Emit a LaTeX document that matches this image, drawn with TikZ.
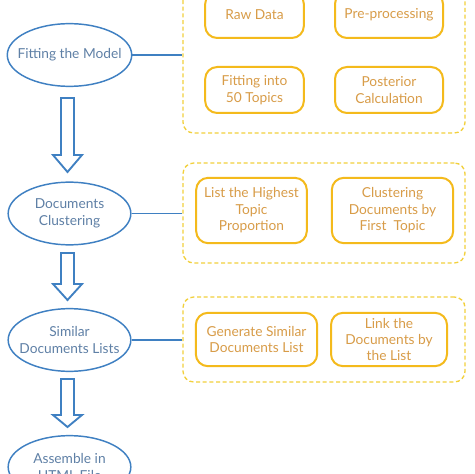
\documentclass[tikz,border=0pt]{standalone}
\usepackage{fontspec}
\setmainfont{Lato}
\usetikzlibrary{shapes.geometric}
\definecolor{eblue}{HTML}{3F80C2}
\definecolor{etext}{HTML}{5F80A6}
\definecolor{ogold}{HTML}{F4BA1C}
\definecolor{otext}{HTML}{D89C48}
\definecolor{dyel}{HTML}{F2D03C}
\tikzset{
  stage/.style={ellipse, draw=eblue, line width=1.1pt, fill=white, text=etext,
    minimum width=92pt, minimum height=47pt, inner sep=-6pt, align=center,
    font=\fontsize{10.3}{12.3}\selectfont},
  task/.style={rectangle, rounded corners=9pt, draw=ogold, line width=1.5pt, text=otext,
    align=center, inner sep=1pt, font=\fontsize{10.3}{12.3}\selectfont},
  group/.style={rectangle, rounded corners=8pt, draw=dyel, line width=1pt,
    dash pattern=on 3pt off 2pt, inner sep=0pt},
  link/.style={draw=eblue, line width=1.1pt},
  blockarrow/.style={draw=eblue, line width=1.4pt, fill=white, line join=miter}
}
\begin{document}
\begin{tikzpicture}[x=0.75pt,y=-0.75pt]
\clip (0,0) rectangle (474,474);
\fill[white] (0,0) rectangle (474,474);

% groups
\node[group, minimum width=211.5pt, minimum height=114.75pt] (g1) at (324,56.5) {};
\node[group, minimum width=211.5pt, minimum height=75pt] (g2) at (324,213) {};
\node[group, minimum width=211.5pt, minimum height=63.75pt] (g3) at (324,339.5) {};

% stages
\node[stage] (e1) at (69.5,55) {Fitting the Model};
\node[stage] (e2) at (69.5,213.5) {Documents\\Clustering};
\node[stage] (e3) at (69.5,340) {Similar\\Documents Lists};
\node[stage] (e4) at (69.5,467) {Assemble in\\HTML File};

% tasks
\node[task, minimum width=74pt, minimum height=34.5pt] (t1) at (254.5,15) {Raw Data};
\node[task, minimum width=81pt, minimum height=34.5pt] (t2) at (389,15) {Pre-processing};
\node[task, minimum width=74pt, minimum height=34.5pt] (t3) at (254.5,90) {Fitting into\\50 Topics};
\node[task, minimum width=81pt, minimum height=34.5pt] (t4) at (389,90) {Posterior\\Calculation};
\node[task, minimum width=83pt, minimum height=49pt] (t5) at (251.5,210.5) {List the Highest\\Topic\\Proportion};
\node[task, minimum width=91pt, minimum height=49pt] (t6) at (392.5,210.5) {Clustering\\Documents by\\First~ Topic};
\node[task, minimum width=91pt, minimum height=40pt] (t7) at (256.5,339.5) {Generate Similar\\Documents List};
\node[task, minimum width=87pt, minimum height=40pt] (t8) at (389,339.5) {Link the\\Documents by\\the List};

% connectors
\draw[link] (e1.east) -- (e1.east -| g1.west);
\draw[link] (e2.east) -- (e2.east -| g2.west);
\draw[link] (e3.east) -- (e3.east -| g3.west);

% block arrows
\draw[blockarrow] (61,98) -- (74,98) -- (74,155) -- (82,155) -- (67.5,172) -- (53,155) -- (61,155) -- cycle;
\draw[blockarrow] (61,253) -- (74,253) -- (74,284) -- (82,284) -- (67.5,300) -- (53,284) -- (61,284) -- cycle;
\draw[blockarrow] (61,379) -- (74,379) -- (74,415) -- (82,415) -- (67.5,427) -- (53,415) -- (61,415) -- cycle;
\end{tikzpicture}
\end{document}
